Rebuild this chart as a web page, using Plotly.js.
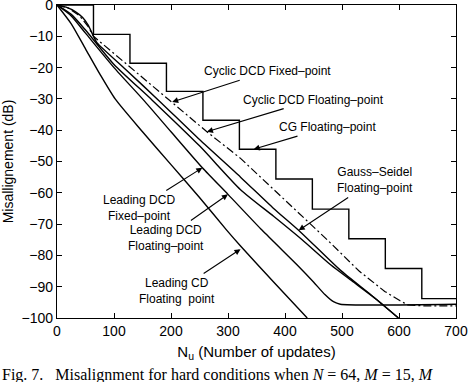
<!DOCTYPE html>
<html>
<head>
<meta charset="utf-8">
<script src="https://cdn.plot.ly/plotly-3.0.1.min.js"></script>
<style>
html,body{margin:0;padding:0;background:#fff;}
#chart{width:474px;height:382px;}
</style>
</head>
<body>
<div id="chart"></div>
<script>
// CG Floating-point (staircase)
const cgX = [0, 64, 128, 192, 256, 320, 384, 448, 512, 576, 640, 700];
const cgY = [0, -9.4, -18.6, -27.6, -36.8, -46.1, -55.6, -65.2, -74.7, -84.2, -93.8, -93.8];

// Cyclic DCD (fixed / floating, dash-dot)
const cycX = [0, 20, 40, 55, 64, 100, 150, 202, 263, 322, 380, 438, 474, 530, 575, 602, 615, 640, 700];
const cycY = [0, -1, -3.5, -7, -10, -15.5, -23, -31, -40.5, -49, -59, -69, -75, -85, -91.5, -94.5, -95.8, -96.1, -96.1];

// Gauss-Seidel Floating-point
const gsX = [0, 16, 32, 45, 55, 64, 70, 120, 178, 250, 322, 380, 427, 497, 550, 599];
const gsY = [0, -0.7, -2.1, -4, -6.5, -10, -12, -20.5, -30.4, -43, -55, -65, -72.5, -84.7, -92.5, -100];

// Leading DCD Floating-point
const ldflX = [0, 25, 50, 100, 167, 250, 322, 380, 430, 480, 520, 560, 599];
const ldflY = [0, -3, -8, -19, -30.4, -45, -59, -67.5, -75, -83, -88.5, -94, -100];

// Leading DCD Fixed-point
const ldfxX = [0, 25, 50, 100, 152, 200, 255, 300, 360, 421, 450, 470, 485, 497, 700];
const ldfxY = [0, -3.5, -9, -20, -30.4, -40.5, -52, -60.5, -72, -83, -88.5, -92.5, -94.8, -95.6, -95.6];

// Leading CD Floating point
const lcdX = [0, 25, 50, 75, 102, 150, 200, 250, 298, 322, 380, 439];
const lcdY = [0, -6, -14, -22, -30, -40.5, -51, -61.5, -72, -77, -88.5, -100];

const xTicks = [0, 100, 200, 300, 400, 500, 600, 700];
const yTicks = [0, -10, -20, -30, -40, -50, -60, -70, -80, -90, -100];

const labels = [
  {text: 'Cyclic DCD Fixed\u2013point', tip: [202, -31], pos: [370, -21.1]},
  {text: 'Cyclic DCD Floating\u2013point', tip: [263, -40.5], pos: [450.5, -30.2]},
  {text: 'CG Floating\u2013point', tip: [345, -46.1], pos: [475, -39]},
  {text: 'Gauss\u2013Seidel<br>Floating\u2013point', tip: [424, -72], pos: [557.5, -55.9]},
  {text: 'Leading DCD<br>Fixed\u2013point', tip: [255, -52], pos: [143, -64.9]},
  {text: 'Leading DCD<br>Floating\u2013point', tip: [300, -60.5], pos: [191, -74.5]},
  {text: 'Leading CD<br>Floating  point', tip: [322, -78], pos: [210.5, -91.4]}
];

const lineStyle = {color: '#000', width: 1.4};
const traces = [
  {x: cgX, y: cgY, mode: 'lines', line: Object.assign({shape: 'hv'}, lineStyle)},
  {x: cycX, y: cycY, mode: 'lines', line: {color: '#000', width: 1.2, dash: '8px,3px,2px,3px'}},
  {x: gsX, y: gsY, mode: 'lines', line: Object.assign({shape: 'spline', smoothing: 0.6}, lineStyle)},
  {x: ldflX, y: ldflY, mode: 'lines', line: Object.assign({shape: 'spline', smoothing: 0.6}, lineStyle)},
  {x: ldfxX, y: ldfxY, mode: 'lines', line: Object.assign({shape: 'spline', smoothing: 0.6}, lineStyle)},
  {x: lcdX, y: lcdY, mode: 'lines', line: Object.assign({shape: 'spline', smoothing: 0.6}, lineStyle)}
];

const annotations = labels.map(l => ({
  x: l.tip[0], y: l.tip[1], xref: 'x', yref: 'y',
  ax: l.pos[0], ay: l.pos[1], axref: 'x', ayref: 'y',
  text: l.text, showarrow: true, arrowhead: 2, arrowsize: 1.1, arrowwidth: 1.1,
  arrowcolor: '#000', standoff: 0, startstandoff: 2,
  font: {family: 'Liberation Sans, Arial, sans-serif', size: 12, color: '#000'}
}));
annotations.push({
  xref: 'paper', yref: 'paper', x: -0.143, y: -0.182, xanchor: 'left', yanchor: 'middle',
  showarrow: false,
  text: 'Fig. 7.   Misalignment for hard conditions when <i>N</i> = 64, <i>M</i> = 15, <i>M</i>',
  font: {family: 'Liberation Serif, Times New Roman, serif', size: 16, color: '#000'}
});

const axisFont = {family: 'Liberation Sans, Arial, sans-serif', size: 14, color: '#000'};
const layout = {
  width: 474, height: 382,
  margin: {l: 57, r: 18, t: 5, b: 64},
  paper_bgcolor: '#fff', plot_bgcolor: '#fff',
  showlegend: false,
  xaxis: {
    range: [0, 700], tickvals: xTicks, ticktext: xTicks.map(String),
    ticks: 'inside', ticklen: 5, tickcolor: '#000', showline: true, linecolor: '#000', linewidth: 1.2,
    mirror: 'ticks', showgrid: false, zeroline: false, tickfont: axisFont, ticklabeloverflow: 'allow',
    title: {text: 'N<sub>u</sub> (Number of updates)', font: {family: 'Liberation Sans, Arial, sans-serif', size: 15, color: '#000'}, standoff: 8}
  },
  yaxis: {
    range: [-100, 0.0001], tickvals: yTicks, ticktext: yTicks.map(v => v === 0 ? '0' : '\u2212' + Math.abs(v)),
    ticks: 'inside', ticklen: 5, tickcolor: '#000', showline: true, linecolor: '#000', linewidth: 1.2,
    mirror: 'ticks', showgrid: false, zeroline: false, tickfont: axisFont, ticklabeloverflow: 'allow',
    title: {text: 'Misallignement (dB)', font: {family: 'Liberation Sans, Arial, sans-serif', size: 14, color: '#000'}, standoff: 6}
  },
  annotations: annotations
};

Plotly.newPlot('chart', traces, layout, {displayModeBar: false, staticPlot: true});
</script>
</body>
</html>
